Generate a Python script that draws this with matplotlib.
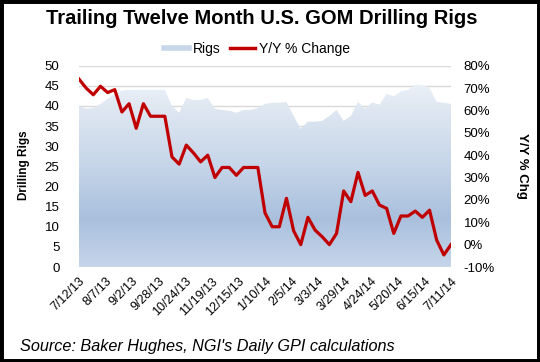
import numpy as np
import pandas as pd
import matplotlib
matplotlib.use('Agg')
import matplotlib.pyplot as plt
import matplotlib.dates as mdates
from matplotlib.colors import LinearSegmentedColormap
from matplotlib.lines import Line2D
from matplotlib.patches import Rectangle

plt.rcParams['font.family'] = ['Liberation Sans', 'DejaVu Sans']

# weekly rig counts, 7/12/13 .. 7/11/14
weeks = pd.date_range('2013-07-12', '2014-07-11', freq='7D')
rigs = [40, 39.3, 39.5, 40.5, 41.8, 43, 43.8, 44, 44, 44, 44, 44, 44, 40,
        38.3, 42, 41.5, 41.5, 42, 39.3, 39, 38.8, 38.3, 39, 39, 39.5, 40.5,
        40.8, 40.8, 41, 37.5, 34.3, 36.1, 36.1, 36.3, 37.5, 39, 36.3, 37.5,
        41, 39.3, 40.9, 40.3, 43, 42.4, 43.6, 44, 45.3, 45.2, 44.5, 41,
        40.8, 40.5]
yoy = [74, 70, 67, 70.8, 68, 69.3, 59.3, 63, 52, 63, 57.4, 57.4, 57.4,
       39.2, 36, 44.5, 41, 37, 40, 30, 34.5, 34.5, 31, 34.5, 34.5, 34.5,
       14.2, 8, 8, 20.7, 6.2, 0, 12.2, 6.5, 3.5, 0, 5, 24, 19.2, 32.3, 22,
       24, 17.7, 16.2, 5, 12.8, 12.8, 15, 12.2, 15.4, 2, -4.6, 0]
tick_labels = ['7/12/13', '8/7/13', '9/2/13', '9/28/13', '10/24/13',
               '11/19/13', '12/15/13', '1/10/14', '2/5/14', '3/3/14',
               '3/29/14', '4/24/14', '5/20/14', '6/15/14', '7/11/14']
tick_dates = pd.to_datetime(tick_labels, format='%m/%d/%y')

x = mdates.date2num(weeks)
xt = mdates.date2num(tick_dates)

fig = plt.figure(figsize=(5.4, 3.62), dpi=100)
ax = fig.add_axes([79 / 540, 1 - 267 / 362, 372 / 540, 201.3 / 362])
ax2 = ax.twinx()

# gradient filled area for the rig counts
poly = ax.fill_between(x, rigs, 0, color='none', lw=0)
cmap = LinearSegmentedColormap.from_list('rig', [
    (0.0, '#c6d5ea'), (0.24, '#a9c0dd'), (0.5, '#c6d5e9'),
    (0.8, '#e0e8f2'), (1.0, '#f5f8fc')])
grad = np.linspace(0, 1, 256).reshape(-1, 1)
im = ax.imshow(grad, extent=[x[0], x[-1], 0, 50], aspect='auto',
               origin='lower', cmap=cmap, zorder=1)
im.set_clip_path(poly.get_paths()[0], ax.transData)

ax.set_xlim(x[0], x[-1])
ax.set_ylim(0, 50)
ax.set_yticks(range(0, 51, 5))
ax.yaxis.grid(True, color='#d9d9d9', lw=1)
ax.set_axisbelow(True)
ax.set_xticks(xt)
ax.set_xticklabels(tick_labels, rotation=45, ha='right',
                   rotation_mode='anchor')

ax2.plot(x, yoy, color='#c00000', lw=2.3, zorder=3)
ax2.set_ylim(-10, 80)
ax2.set_yticks(range(-10, 81, 10))
ax2.set_yticklabels(['%d%%' % v for v in range(-10, 81, 10)])

for a in (ax, ax2):
    for s in a.spines.values():
        s.set_visible(False)
ax.tick_params(axis='y', length=0, pad=14, labelsize=9.5)
ax.tick_params(axis='x', length=0, pad=6, labelsize=9)
ax2.tick_params(axis='y', length=0, pad=9, labelsize=9.5)

fig.text(0.484, 1 - 18 / 362, 'Trailing Twelve Month U.S. GOM Drilling Rigs',
         ha='center', va='center', fontsize=14.5, weight='bold')
handles = [Line2D([], [], color='#c8d6ea', lw=4),
           Line2D([], [], color='#c00000', lw=2.5)]
fig.legend(handles, ['Rigs', 'Y/Y % Change'], loc='center',
           bbox_to_anchor=(257 / 540, 1 - 49 / 362), ncol=2, frameon=False,
           fontsize=10, handlelength=1.8, columnspacing=0.7,
           handletextpad=0.3)
fig.text(24 / 540, 1 - 165 / 362, 'Drilling Rigs', rotation=90,
         ha='center', va='center', fontsize=8.5, weight='bold')
fig.text(522 / 540, 1 - 166 / 362, 'Y/Y % Chg', rotation=270,
         ha='center', va='center', fontsize=9.5, weight='bold')
fig.text(20 / 540, 1 - 347 / 362,
         "Source: Baker Hughes, NGI's Daily GPI calculations",
         ha='left', va='center', fontsize=11.7, style='italic')

fig.patches.append(Rectangle((0, 0), 1, 1, transform=fig.transFigure,
                             fill=False, lw=5, ec='black'))

fig.savefig('out.png', dpi=100)
